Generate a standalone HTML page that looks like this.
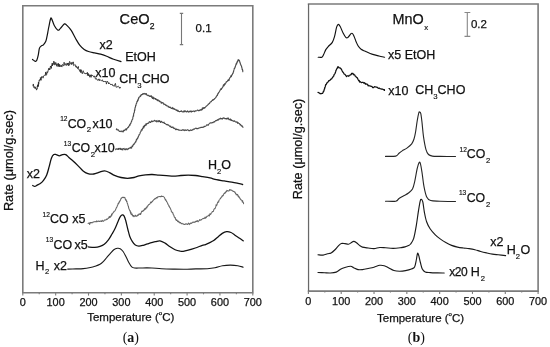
<!DOCTYPE html>
<html><head><meta charset="utf-8"><title>TPD CeO2 MnOx</title>
<style>
html,body{margin:0;padding:0;background:#fff;}
body{width:550px;height:347px;overflow:hidden;}
svg{display:block;filter:blur(0.3px);}
text{font-family:"Liberation Sans",Arial,sans-serif;fill:#111;stroke:#111;stroke-width:0.25px;}
text[font-size="6.6"],text[font-size="7.6"],text[font-size="7.8"]{stroke-width:0.16px;}
</style></head><body>
<svg width="550" height="347" viewBox="0 0 550 347">
<rect width="550" height="347" fill="#fff"/>
<path d="M22.80,5.80 H252.80 V292.80 H22.80 Z" stroke="#7b7b7b" stroke-width="1.6" fill="none"/>
<line x1="22.80" y1="292.80" x2="22.80" y2="295.60" stroke="#7b7b7b" stroke-width="1.1"/>
<line x1="39.23" y1="292.80" x2="39.23" y2="294.30" stroke="#7b7b7b" stroke-width="1.1"/>
<line x1="55.66" y1="292.80" x2="55.66" y2="295.60" stroke="#7b7b7b" stroke-width="1.1"/>
<line x1="72.09" y1="292.80" x2="72.09" y2="294.30" stroke="#7b7b7b" stroke-width="1.1"/>
<line x1="88.51" y1="292.80" x2="88.51" y2="295.60" stroke="#7b7b7b" stroke-width="1.1"/>
<line x1="104.94" y1="292.80" x2="104.94" y2="294.30" stroke="#7b7b7b" stroke-width="1.1"/>
<line x1="121.37" y1="292.80" x2="121.37" y2="295.60" stroke="#7b7b7b" stroke-width="1.1"/>
<line x1="137.80" y1="292.80" x2="137.80" y2="294.30" stroke="#7b7b7b" stroke-width="1.1"/>
<line x1="154.23" y1="292.80" x2="154.23" y2="295.60" stroke="#7b7b7b" stroke-width="1.1"/>
<line x1="170.66" y1="292.80" x2="170.66" y2="294.30" stroke="#7b7b7b" stroke-width="1.1"/>
<line x1="187.09" y1="292.80" x2="187.09" y2="295.60" stroke="#7b7b7b" stroke-width="1.1"/>
<line x1="203.51" y1="292.80" x2="203.51" y2="294.30" stroke="#7b7b7b" stroke-width="1.1"/>
<line x1="219.94" y1="292.80" x2="219.94" y2="295.60" stroke="#7b7b7b" stroke-width="1.1"/>
<line x1="236.37" y1="292.80" x2="236.37" y2="294.30" stroke="#7b7b7b" stroke-width="1.1"/>
<line x1="252.80" y1="292.80" x2="252.80" y2="295.60" stroke="#7b7b7b" stroke-width="1.1"/>
<text x="22.80" y="306.30" text-anchor="middle" font-size="10.9">0</text>
<text x="55.66" y="306.30" text-anchor="middle" font-size="10.9">100</text>
<text x="88.51" y="306.30" text-anchor="middle" font-size="10.9">200</text>
<text x="121.37" y="306.30" text-anchor="middle" font-size="10.9">300</text>
<text x="154.23" y="306.30" text-anchor="middle" font-size="10.9">400</text>
<text x="187.09" y="306.30" text-anchor="middle" font-size="10.9">500</text>
<text x="219.94" y="306.30" text-anchor="middle" font-size="10.9">600</text>
<text x="252.80" y="306.30" text-anchor="middle" font-size="10.9">700</text>
<path d="M307.80,4.00 H538.10 V291.10 H307.80" stroke="#7b7b7b" stroke-width="1.6" fill="none"/>
<line x1="308.55" y1="4.00" x2="308.55" y2="291.10" stroke="#686868" stroke-width="1.25"/>
<line x1="308.40" y1="291.10" x2="308.40" y2="293.90" stroke="#7b7b7b" stroke-width="1.1"/>
<line x1="324.81" y1="291.10" x2="324.81" y2="292.60" stroke="#7b7b7b" stroke-width="1.1"/>
<line x1="341.21" y1="291.10" x2="341.21" y2="293.90" stroke="#7b7b7b" stroke-width="1.1"/>
<line x1="357.62" y1="291.10" x2="357.62" y2="292.60" stroke="#7b7b7b" stroke-width="1.1"/>
<line x1="374.03" y1="291.10" x2="374.03" y2="293.90" stroke="#7b7b7b" stroke-width="1.1"/>
<line x1="390.44" y1="291.10" x2="390.44" y2="292.60" stroke="#7b7b7b" stroke-width="1.1"/>
<line x1="406.84" y1="291.10" x2="406.84" y2="293.90" stroke="#7b7b7b" stroke-width="1.1"/>
<line x1="423.25" y1="291.10" x2="423.25" y2="292.60" stroke="#7b7b7b" stroke-width="1.1"/>
<line x1="439.66" y1="291.10" x2="439.66" y2="293.90" stroke="#7b7b7b" stroke-width="1.1"/>
<line x1="456.06" y1="291.10" x2="456.06" y2="292.60" stroke="#7b7b7b" stroke-width="1.1"/>
<line x1="472.47" y1="291.10" x2="472.47" y2="293.90" stroke="#7b7b7b" stroke-width="1.1"/>
<line x1="488.88" y1="291.10" x2="488.88" y2="292.60" stroke="#7b7b7b" stroke-width="1.1"/>
<line x1="505.29" y1="291.10" x2="505.29" y2="293.90" stroke="#7b7b7b" stroke-width="1.1"/>
<line x1="521.69" y1="291.10" x2="521.69" y2="292.60" stroke="#7b7b7b" stroke-width="1.1"/>
<line x1="538.10" y1="291.10" x2="538.10" y2="293.90" stroke="#7b7b7b" stroke-width="1.1"/>
<text x="308.40" y="305.00" text-anchor="middle" font-size="10.9">0</text>
<text x="341.21" y="305.00" text-anchor="middle" font-size="10.9">100</text>
<text x="374.03" y="305.00" text-anchor="middle" font-size="10.9">200</text>
<text x="406.84" y="305.00" text-anchor="middle" font-size="10.9">300</text>
<text x="439.66" y="305.00" text-anchor="middle" font-size="10.9">400</text>
<text x="472.47" y="305.00" text-anchor="middle" font-size="10.9">500</text>
<text x="505.29" y="305.00" text-anchor="middle" font-size="10.9">600</text>
<text x="538.10" y="305.00" text-anchor="middle" font-size="10.9">700</text>
<g fill="none" stroke-linejoin="round" stroke-linecap="round">
<path d="M32.50,59.40 C32.98,59.73 34.68,61.25 35.40,61.40 C36.12,61.55 36.32,61.40 36.80,60.30 C37.28,59.20 37.87,56.78 38.30,54.80 C38.73,52.82 38.93,49.85 39.40,48.40 C39.87,46.95 40.43,46.70 41.10,46.10 C41.77,45.50 42.63,45.57 43.40,44.80 C44.17,44.03 45.12,42.82 45.70,41.50 C46.28,40.18 46.55,38.43 46.90,36.90 C47.25,35.37 47.48,33.95 47.80,32.30 C48.12,30.65 48.33,29.25 48.80,27.00 C49.27,24.75 50.12,20.15 50.60,18.80 C51.08,17.45 51.07,17.73 51.70,18.90 C52.33,20.07 53.37,23.92 54.40,25.80 C55.43,27.68 56.90,29.77 57.90,30.20 C58.90,30.63 59.32,29.45 60.40,28.40 C61.48,27.35 63.32,24.40 64.40,23.90 C65.48,23.40 65.77,24.32 66.90,25.40 C68.03,26.48 69.75,28.22 71.20,30.40 C72.65,32.58 74.15,36.00 75.60,38.50 C77.05,41.00 78.47,43.58 79.90,45.40 C81.33,47.22 82.77,48.38 84.20,49.40 C85.63,50.42 86.77,50.92 88.50,51.50 C90.23,52.08 92.58,52.47 94.60,52.90 C96.62,53.33 98.58,53.53 100.60,54.10 C102.62,54.67 104.53,55.43 106.70,56.30 C108.87,57.17 111.22,58.42 113.60,59.30 C115.98,60.18 119.77,61.22 121.00,61.60" stroke="#111" stroke-width="1.2"/>
<path d="M33.05,85.96 L33.15,85.98 L33.28,83.96 L33.92,87.27 L34.15,86.64 L34.14,88.01 L34.36,87.79 L35.07,88.10 L35.30,88.68 L35.22,86.83 L35.54,87.63 L36.09,87.80 L36.50,90.12 L36.71,89.51 L36.90,88.92 L36.79,89.17 L37.40,88.71 L37.16,86.70 L37.64,85.50 L37.73,86.05 L37.67,85.46 L37.76,86.86 L37.75,85.22 L37.82,87.02 L37.95,84.37 L38.36,83.85 L38.46,82.08 L38.44,86.07 L38.70,83.20 L38.76,83.56 L38.95,81.74 L39.22,80.43 L39.57,81.09 L39.35,80.60 L39.82,79.50 L39.74,79.21 L39.82,79.06 L40.29,79.09 L40.58,80.20 L40.80,78.00 L40.45,77.56 L41.08,80.29 L41.08,78.88 L41.52,76.93 L41.45,77.51 L41.59,77.86 L41.98,77.50 L42.03,76.26 L42.33,77.09 L42.80,77.56 L43.05,78.15 L43.43,77.32 L43.61,75.92 L43.90,75.56 L44.50,75.43 L44.70,75.29 L44.86,75.33 L45.32,74.59 L45.75,71.96 L45.88,75.56 L46.06,73.51 L46.47,73.55 L46.68,74.46 L47.12,71.60 L47.16,72.38 L47.56,72.75 L47.86,72.04 L48.03,70.94 L48.79,68.30 L48.74,69.44 L49.26,69.28 L49.39,68.47 L49.45,70.00 L49.86,69.41 L50.06,69.41 L50.10,67.84 L50.36,66.74 L50.38,66.08 L50.63,66.76 L50.96,65.99 L51.17,68.59 L51.36,67.14 L51.40,67.64 L51.30,65.92 L51.99,64.87 L51.74,64.43 L52.22,62.99 L52.61,63.47 L52.42,66.01 L52.51,63.67 L53.21,64.70 L53.37,64.38 L53.82,61.15 L53.80,62.36 L54.42,62.14 L54.82,65.13 L54.98,63.49 L55.08,64.00 L55.75,62.40 L56.12,64.66 L56.20,63.72 L56.78,66.25 L56.86,66.18 L57.31,63.93 L58.02,64.37 L58.14,66.79 L58.36,63.25 L58.56,65.97 L58.86,64.36 L59.39,64.46 L59.64,66.88 L59.74,64.58 L60.51,66.14 L60.80,66.63 L60.86,66.03 L61.42,65.28 L61.32,66.46 L61.69,66.65 L62.10,66.92 L62.07,64.77 L62.53,64.47 L63.04,65.12 L63.19,65.96 L63.68,65.54 L63.68,65.40 L64.12,62.24 L64.43,64.26 L64.85,64.27 L64.88,65.39 L65.40,64.18 L65.64,63.74 L65.57,63.75 L66.22,63.41 L66.15,65.29 L66.41,65.19 L66.76,65.39 L67.47,63.08 L67.44,64.77 L67.89,64.60 L68.36,64.28 L68.22,63.22 L68.57,62.97 L68.70,65.94 L69.44,63.90 L69.71,64.42 L69.62,61.38 L70.15,62.33 L70.63,63.62 L70.81,64.06 L71.03,63.54 L71.33,63.63 L71.70,62.41 L71.69,64.67 L72.14,63.46 L72.60,63.74 L72.51,63.30 L72.86,61.97 L73.48,62.05 L73.49,63.05 L73.71,65.65 L74.08,65.40 L74.45,65.03 L74.83,64.49 L75.27,64.78 L75.37,65.80 L75.86,66.14 L76.16,67.25 L76.07,65.80 L76.24,66.70 L77.01,67.74 L77.28,67.50 L77.20,67.22 L77.53,68.62 L78.10,68.23 L78.33,66.43 L78.38,68.33 L78.81,69.54 L78.82,69.91 L79.25,70.03 L79.91,70.25 L79.78,71.37 L80.29,69.49 L80.52,72.50 L80.83,70.25 L81.02,70.49 L81.30,69.78 L81.57,72.44 L81.87,73.11 L81.95,72.75 L82.40,73.69 L82.84,71.43 L83.18,70.71 L83.60,72.44 L84.27,72.95 L84.18,73.59 L84.66,73.13 L85.46,73.77 L85.69,73.04 L86.04,73.73 L86.62,73.43 L87.08,73.62 L87.40,72.30 L87.41,75.53 L87.83,73.16 L87.86,73.22 L88.27,73.44 L88.76,76.00 L88.73,74.31 L89.39,75.14 L89.75,77.21 L89.93,76.53 L90.36,74.82 L91.09,77.36 L91.61,74.72 L92.02,75.78 L92.52,75.18 L93.37,76.39 L93.84,77.17 L94.35,75.86 L94.85,76.97 L95.48,79.08 L96.53,78.55 L97.06,80.05 L97.77,80.11 L98.21,80.43 L98.88,78.87 L99.49,80.66 L99.76,79.57 L100.62,80.22 L101.47,80.66 L102.00,80.55 L102.40,79.78 L103.13,81.75 L103.95,81.29 L104.43,81.88 L105.00,81.02 L105.66,81.61 L105.92,81.19 L106.43,84.10 L107.17,81.25 L108.03,81.83 L108.68,83.94 L108.97,82.93 L109.68,83.22 L110.00,83.91 L111.10,85.01 L111.26,84.51 L112.36,84.34 L112.51,85.55 L113.60,85.63 L114.14,86.42 L114.55,85.14 L115.42,83.37 L116.07,87.24 L116.85,87.00 L117.98,86.64 L118.27,86.02 L119.24,86.97 L119.31,88.10 L120.15,87.46 L120.13,88.16 L120.23,87.50" stroke="#2a2a2a" stroke-width="0.85"/>
<path d="M116.33,129.36 L116.69,128.77 L117.01,129.91 L117.37,130.04 L117.99,129.80 L118.28,129.85 L118.89,130.81 L119.45,131.47 L119.87,131.06 L120.71,131.39 L120.97,131.47 L121.11,131.71 L121.54,131.04 L121.91,131.01 L122.32,131.18 L123.08,132.01 L123.21,131.21 L123.61,130.44 L123.77,131.10 L124.26,130.09 L124.53,130.08 L124.62,130.47 L124.89,130.26 L125.29,129.90 L125.40,129.40 L125.75,129.03 L126.15,128.82 L126.31,129.06 L126.62,129.95 L126.69,129.01 L127.13,128.40 L127.38,128.05 L127.51,127.82 L127.66,127.59 L127.93,127.64 L128.31,126.99 L128.59,127.18 L128.66,126.35 L128.93,126.24 L129.21,125.69 L129.44,125.67 L129.70,125.18 L129.68,124.61 L130.11,125.13 L130.16,124.77 L130.36,123.64 L130.56,123.61 L130.72,123.30 L131.06,122.99 L131.08,122.29 L131.52,121.40 L131.51,121.29 L131.79,121.14 L131.92,119.97 L132.00,120.01 L132.29,119.32 L132.56,119.34 L132.76,118.83 L132.84,117.79 L132.95,116.96 L133.04,116.80 L133.29,115.69 L133.59,116.13 L133.60,113.78 L133.76,114.04 L133.85,112.92 L134.03,113.02 L134.33,112.41 L134.47,111.00 L134.45,110.31 L134.53,109.90 L134.89,110.13 L134.90,108.89 L135.15,107.34 L135.31,107.53 L135.48,106.49 L135.53,105.58 L135.80,105.85 L135.86,105.84 L136.10,104.46 L136.12,103.81 L136.48,103.51 L136.60,103.36 L136.88,101.99 L136.95,101.63 L137.29,101.02 L137.37,101.62 L137.68,99.89 L137.98,100.70 L138.08,99.57 L138.22,99.81 L138.54,97.92 L138.84,98.26 L138.95,97.27 L139.37,97.01 L139.53,96.88 L139.86,96.94 L140.16,95.87 L140.26,96.43 L140.72,96.25 L140.90,95.27 L141.16,94.62 L141.59,94.93 L141.82,94.78 L142.19,94.50 L142.44,94.42 L142.89,93.50 L143.26,94.22 L143.50,93.69 L143.87,93.59 L144.17,93.39 L144.65,93.72 L144.86,94.27 L145.12,93.91 L145.57,93.59 L146.02,94.56 L146.33,93.52 L146.63,94.83 L146.92,95.01 L147.34,95.30 L147.83,95.62 L148.06,95.08 L148.62,95.59 L148.95,95.56 L149.41,96.15 L149.94,96.44 L150.26,95.86 L150.70,96.50 L151.35,95.75 L151.80,97.59 L152.18,96.95 L152.61,98.51 L153.04,96.93 L153.50,98.88 L153.87,97.70 L154.38,98.19 L154.74,98.18 L155.26,99.39 L155.45,98.52 L156.10,99.05 L156.46,99.37 L156.69,99.97 L157.32,99.69 L157.58,100.70 L158.03,99.76 L158.30,100.15 L158.88,100.68 L159.18,101.63 L159.59,100.87 L160.03,101.53 L160.56,101.78 L160.85,102.08 L161.32,103.22 L161.75,102.18 L162.01,102.99 L162.56,102.68 L162.98,103.03 L163.41,103.22 L163.63,103.13 L163.93,104.57 L164.29,104.29 L164.76,104.25 L165.05,104.25 L165.39,104.91 L165.74,105.26 L165.95,105.51 L166.25,105.16 L166.58,105.68 L166.96,105.92 L167.29,105.94 L167.60,105.92 L167.91,106.06 L168.30,107.03 L168.38,106.49 L168.92,106.80 L169.27,107.48 L169.53,107.26 L169.91,107.46 L170.03,106.98 L170.36,107.20 L170.81,107.86 L171.07,107.86 L171.31,108.49 L171.82,108.29 L172.18,108.53 L172.35,108.70 L172.75,107.41 L173.02,108.66 L173.26,108.63 L173.74,108.59 L174.03,109.44 L174.38,108.76 L174.61,108.86 L175.07,109.19 L175.32,109.64 L175.58,109.78 L175.97,109.95 L176.23,110.40 L176.36,109.77 L176.66,109.81 L177.09,110.16 L177.37,111.12 L177.67,110.33 L178.14,110.30 L178.35,111.15 L178.95,111.50 L179.30,111.60 L179.92,111.60 L180.50,111.30 L180.94,111.49 L181.49,110.79 L182.12,111.74 L182.74,111.85 L183.43,112.02 L184.09,110.65 L184.62,111.87 L185.24,110.90 L185.77,111.27 L186.26,111.92 L186.82,111.70 L187.62,110.88 L187.95,111.72 L188.65,112.10 L189.21,111.19 L189.79,111.77 L190.28,111.68 L190.91,110.78 L191.43,112.03 L192.04,111.32 L192.64,111.56 L193.23,111.12 L194.03,111.17 L194.51,111.72 L195.23,110.75 L195.81,111.13 L196.50,110.75 L197.03,110.39 L197.62,109.96 L198.23,110.80 L198.79,110.38 L199.44,110.60 L199.95,109.93 L200.50,109.66 L201.05,110.32 L201.36,109.42 L202.01,109.82 L202.35,107.79 L202.60,109.15 L203.02,108.45 L203.42,107.63 L203.96,108.34 L204.32,107.47 L204.66,108.07 L205.20,107.32 L205.75,106.90 L205.95,106.37 L206.47,106.25 L206.91,105.72 L207.31,105.36 L207.93,104.92 L208.15,104.06 L208.68,104.12 L208.99,103.68 L209.54,103.58 L210.08,102.27 L210.32,102.09 L210.71,101.69 L211.31,101.66 L211.71,100.85 L212.31,100.42 L212.61,99.70 L213.04,100.32 L213.46,99.54 L214.07,99.35 L214.51,98.63 L214.72,98.50 L215.16,98.25 L215.62,97.64 L215.88,97.61 L216.15,96.80 L216.49,96.00 L216.75,96.09 L217.12,94.94 L217.42,95.49 L217.77,93.94 L217.95,93.31 L218.17,93.77 L218.57,92.47 L218.78,92.53 L219.08,91.86 L219.26,91.88 L219.49,91.44 L219.80,90.71 L220.04,90.10 L220.52,89.89 L220.62,89.51 L220.94,88.55 L221.45,89.36 L221.65,88.29 L221.88,88.29 L222.16,88.00 L222.59,87.05 L222.85,87.07 L222.99,86.55 L223.41,84.88 L223.72,85.89 L223.81,84.78 L224.19,85.76 L224.47,83.79 L224.89,84.44 L225.08,84.41 L225.26,83.34 L225.77,82.96 L226.13,82.77 L226.21,81.84 L226.79,81.63 L227.03,81.52 L227.36,81.35 L227.84,80.08 L228.14,80.69 L228.55,79.66 L229.05,80.48 L229.42,78.42 L229.58,78.02 L230.09,77.78 L230.21,77.51 L230.47,76.93 L230.75,75.83 L231.15,76.14 L231.39,76.74 L231.54,75.96 L231.57,75.10 L231.91,74.95 L232.07,74.71 L232.24,74.88 L232.45,74.17 L232.68,73.55 L233.03,72.77 L233.20,73.27 L233.39,71.74 L233.57,71.54 L233.81,70.31 L234.06,69.65 L234.12,69.24 L234.35,68.20 L234.75,68.32 L234.95,66.81 L235.04,67.50 L235.36,66.61 L235.55,65.73 L235.81,65.47 L235.97,64.06 L236.13,63.81 L236.25,63.46 L236.53,63.37 L236.61,64.16 L236.73,63.07 L236.84,62.33 L237.12,62.84 L237.26,61.20 L237.47,61.83 L237.74,61.30 L237.97,59.83 L237.99,60.85 L238.25,59.86 L238.71,60.62 L238.75,59.73 L239.01,60.05 L239.24,60.34 L239.60,61.08 L239.71,61.34 L239.81,62.35 L240.07,62.39 L240.15,63.29 L240.43,63.44 L240.39,64.03 L240.73,64.33 L240.86,65.09 L241.22,65.60 L241.51,66.26 L241.59,66.76 L242.08,68.48 L242.14,69.54 L242.53,69.33 L242.53,70.19 L242.77,70.18 L242.79,71.49 L242.79,71.65" stroke="#4a4a4a" stroke-width="1.1"/>
<path d="M115.68,149.63 L115.90,148.88 L116.25,149.05 L116.93,148.85 L117.12,149.32 L117.58,148.90 L117.93,148.76 L118.31,149.51 L118.59,148.43 L119.04,148.91 L119.62,148.82 L119.92,148.35 L120.28,149.38 L120.79,148.34 L121.09,149.31 L121.53,149.69 L122.10,148.83 L122.42,148.92 L122.74,149.98 L123.18,148.67 L123.61,148.81 L124.09,148.30 L124.22,148.67 L124.67,149.52 L125.12,149.83 L125.46,149.52 L125.70,148.80 L126.05,148.64 L126.45,149.15 L126.87,149.16 L127.12,149.67 L127.53,148.89 L128.17,149.25 L128.71,148.24 L129.27,148.22 L129.95,148.31 L130.19,147.21 L130.77,147.89 L131.39,147.21 L131.60,148.22 L131.78,147.14 L132.05,146.22 L132.28,145.80 L132.49,146.00 L132.65,146.43 L132.84,145.90 L133.13,145.30 L133.24,144.67 L133.50,144.28 L133.77,144.10 L134.05,144.31 L134.27,143.51 L134.63,143.05 L134.76,142.73 L134.99,142.87 L135.19,142.57 L135.56,141.55 L135.85,142.03 L136.07,140.59 L136.15,141.04 L136.42,139.38 L136.80,139.81 L136.87,139.79 L137.05,138.88 L137.29,138.44 L137.72,137.74 L137.86,138.32 L138.02,136.70 L138.30,137.15 L138.60,135.87 L138.94,135.78 L139.10,134.59 L139.24,134.41 L139.63,134.26 L139.86,133.96 L139.97,133.58 L140.21,132.30 L140.67,131.75 L140.83,131.63 L141.13,131.05 L141.17,130.11 L141.64,129.76 L141.87,129.35 L142.09,129.82 L142.15,130.14 L142.48,128.49 L142.81,128.12 L143.03,128.22 L143.10,128.14 L143.40,126.24 L143.82,127.87 L143.88,127.24 L144.30,125.59 L144.29,126.67 L144.54,126.24 L144.89,125.14 L144.99,125.69 L145.24,125.65 L145.73,125.15 L145.89,123.73 L146.05,125.26 L146.24,124.75 L146.61,123.69 L146.75,124.11 L147.01,123.68 L147.39,123.58 L147.56,123.35 L147.94,123.47 L148.16,123.09 L148.49,123.18 L148.87,122.46 L149.00,122.67 L149.29,121.67 L149.69,121.89 L149.92,121.90 L150.33,122.36 L150.67,122.41 L151.11,121.71 L151.50,121.11 L151.80,120.86 L152.27,121.67 L152.66,121.26 L152.99,121.34 L153.49,121.20 L153.72,121.04 L154.18,120.84 L154.47,120.24 L154.91,120.76 L155.37,121.28 L155.71,120.76 L156.15,121.11 L156.50,120.73 L156.72,121.93 L157.08,121.81 L157.69,121.02 L158.03,120.39 L158.40,121.02 L158.69,121.68 L159.30,121.44 L159.56,120.63 L160.11,121.50 L160.61,122.45 L161.14,121.62 L161.55,121.29 L161.85,122.02 L162.41,122.23 L162.84,122.59 L163.56,122.67 L164.08,122.14 L164.35,123.49 L164.90,123.57 L165.40,123.68 L166.17,124.49 L166.59,124.62 L167.12,124.41 L167.93,125.16 L168.35,124.91 L169.00,125.44 L169.55,126.09 L170.25,126.72 L170.65,126.03 L171.34,127.38 L172.02,127.60 L172.37,127.15 L173.05,127.02 L173.59,128.28 L174.19,128.55 L174.78,128.10 L175.35,129.33 L175.90,129.78 L176.46,128.94 L176.85,129.58 L177.51,129.70 L178.03,129.24 L178.75,130.25 L179.54,130.13 L180.28,130.29 L180.79,130.25 L181.74,130.38 L182.51,129.70 L183.16,130.30 L183.87,129.75 L184.80,130.62 L185.51,129.81 L186.17,130.37 L186.73,130.16 L187.39,129.73 L188.04,129.83 L188.76,130.73 L189.43,130.59 L189.82,130.71 L190.40,129.87 L191.02,130.24 L191.73,130.34 L192.08,129.86 L192.81,130.06 L193.34,129.14 L193.86,129.28 L194.39,129.29 L195.04,128.43 L195.68,128.16 L196.06,128.03 L196.56,128.70 L197.40,128.41 L197.83,128.69 L198.48,128.35 L198.96,127.93 L199.66,127.77 L200.11,127.88 L200.77,127.36 L201.29,127.33 L201.89,127.25 L202.55,127.38 L202.91,127.07 L203.76,127.21 L204.21,126.18 L204.68,126.57 L205.46,126.30 L206.10,125.87 L206.49,124.93 L207.15,124.71 L207.82,125.23 L208.29,125.21 L208.76,124.14 L209.52,123.61 L209.90,123.11 L210.71,122.78 L211.09,123.04 L211.63,123.02 L212.28,122.43 L212.81,122.78 L213.53,122.06 L214.15,121.67 L214.65,121.96 L215.09,121.30 L215.70,120.46 L216.28,120.80 L216.93,120.14 L217.58,119.64 L218.05,120.35 L218.74,119.09 L219.37,119.12 L219.86,118.47 L220.49,118.17 L221.09,119.11 L221.52,118.51 L222.23,118.55 L222.56,119.06 L223.20,117.63 L223.43,118.23 L223.90,118.23 L224.43,118.13 L224.81,118.64 L225.20,118.56 L225.64,118.64 L225.91,118.83 L226.39,118.41 L226.90,119.05 L227.40,118.55 L227.67,118.06 L228.17,118.75 L228.53,118.07 L228.90,119.67 L229.57,119.47 L229.81,119.60 L230.43,119.00 L230.87,120.43 L231.10,120.48 L231.53,119.74 L231.95,120.64 L232.44,120.61 L232.83,120.88 L233.24,120.90 L233.78,121.37 L234.29,120.73 L234.62,120.95 L235.13,121.55 L235.43,121.88 L236.01,122.01 L236.36,122.25 L236.85,121.85 L237.29,121.96 L237.62,123.33 L238.12,122.61 L238.60,123.13 L239.16,123.60 L239.73,123.76 L240.06,124.92 L240.74,124.63 L241.16,125.64 L241.52,126.12 L241.99,125.84 L242.28,125.99 L242.54,126.42 L243.01,127.21 L242.95,127.40" stroke="#4a4a4a" stroke-width="1.1"/>
<path d="M32.70,185.50 C33.05,185.65 34.05,186.47 34.80,186.40 C35.55,186.33 36.28,185.57 37.20,185.10 C38.12,184.63 39.25,184.38 40.30,183.60 C41.35,182.82 42.43,181.85 43.50,180.40 C44.57,178.95 45.77,177.15 46.70,174.90 C47.63,172.65 48.32,169.68 49.10,166.90 C49.88,164.12 50.62,160.25 51.40,158.20 C52.18,156.15 53.00,155.20 53.80,154.60 C54.60,154.00 55.27,154.40 56.20,154.60 C57.13,154.80 58.35,155.80 59.40,155.80 C60.45,155.80 61.45,154.80 62.50,154.60 C63.55,154.40 64.63,154.13 65.70,154.60 C66.77,155.07 67.58,156.27 68.90,157.40 C70.22,158.53 72.02,159.95 73.60,161.40 C75.18,162.85 76.82,164.52 78.40,166.10 C79.98,167.68 81.52,169.65 83.10,170.90 C84.68,172.15 86.32,173.05 87.90,173.60 C89.48,174.15 91.25,174.23 92.60,174.20 C93.95,174.17 94.82,173.75 96.00,173.40 C97.18,173.05 98.27,172.52 99.70,172.10 C101.13,171.68 102.97,170.82 104.60,170.90 C106.23,170.98 107.85,171.85 109.50,172.60 C111.15,173.35 112.58,174.58 114.50,175.40 C116.42,176.22 118.83,177.02 121.00,177.50 C123.17,177.98 125.32,178.30 127.50,178.30 C129.68,178.30 132.18,177.90 134.10,177.50 C136.02,177.10 137.10,176.33 139.00,175.90 C140.90,175.47 143.32,175.13 145.50,174.90 C147.68,174.67 149.83,174.45 152.10,174.50 C154.37,174.55 156.72,175.02 159.10,175.20 C161.48,175.38 163.98,175.43 166.40,175.60 C168.82,175.77 171.18,176.22 173.60,176.20 C176.02,176.18 178.47,175.67 180.90,175.50 C183.33,175.33 185.77,175.20 188.20,175.20 C190.63,175.20 193.08,175.27 195.50,175.50 C197.92,175.73 200.28,176.20 202.70,176.60 C205.12,177.00 207.72,177.38 210.00,177.90 C212.28,178.42 214.05,179.20 216.40,179.70 C218.75,180.20 221.53,180.50 224.10,180.90 C226.67,181.30 229.48,181.68 231.80,182.10 C234.12,182.52 236.20,183.00 238.00,183.40 C239.80,183.80 241.83,184.32 242.60,184.50" stroke="#111" stroke-width="1.3"/>
<path d="M88.13,223.40 L88.64,223.08 L89.03,223.05 L89.69,224.40 L90.14,222.41 L90.46,222.88 L90.75,222.78 L91.12,222.48 L91.43,222.52 L92.00,222.91 L92.22,222.67 L92.73,222.57 L92.88,222.02 L93.40,221.96 L93.71,221.99 L94.17,221.65 L94.63,221.82 L94.82,221.84 L95.43,221.62 L95.82,221.84 L96.13,221.65 L96.45,220.88 L96.86,221.80 L97.35,221.46 L97.59,221.34 L98.20,220.95 L98.58,221.23 L98.82,221.46 L99.31,221.27 L99.79,221.38 L100.09,221.27 L100.41,221.04 L100.72,221.08 L101.18,221.46 L101.52,221.56 L102.14,220.28 L102.84,221.17 L103.60,221.22 L104.02,220.57 L104.58,219.98 L105.37,219.94 L105.88,220.01 L106.42,219.14 L107.04,219.42 L107.66,218.78 L108.11,218.59 L108.41,217.83 L108.86,217.92 L109.07,217.44 L109.25,216.41 L109.52,217.49 L109.94,217.28 L110.26,216.08 L110.36,217.25 L110.84,216.32 L110.93,216.60 L111.44,215.56 L111.63,213.93 L111.82,215.22 L112.09,214.35 L112.50,213.60 L112.69,213.67 L112.97,212.88 L113.27,212.63 L113.64,212.32 L113.94,211.35 L114.21,211.34 L114.46,211.28 L114.81,211.09 L115.16,210.50 L115.43,209.98 L115.67,209.13 L115.89,209.17 L116.28,207.78 L116.63,207.40 L116.89,206.96 L117.23,206.03 L117.49,205.40 L117.85,204.79 L118.15,203.32 L118.23,203.54 L118.67,203.65 L118.77,203.43 L119.03,201.99 L119.28,202.55 L119.41,201.31 L119.74,201.28 L119.96,201.18 L120.11,200.39 L120.42,200.26 L120.82,199.08 L121.15,198.14 L121.54,198.29 L121.80,198.01 L122.17,197.20 L122.46,197.59 L122.75,197.54 L123.18,197.18 L123.62,197.69 L124.01,197.37 L124.47,197.52 L124.82,198.09 L125.02,197.75 L125.42,199.60 L125.71,199.27 L125.95,200.53 L126.29,199.93 L126.55,201.56 L126.59,201.00 L126.88,201.17 L127.00,202.15 L127.07,202.26 L127.23,203.26 L127.41,203.53 L127.56,203.89 L127.63,204.10 L127.83,204.43 L127.77,204.80 L128.13,205.92 L128.14,205.55 L128.39,206.70 L128.48,206.29 L128.56,207.19 L128.70,208.07 L128.89,208.60 L128.99,208.94 L129.09,208.91 L129.30,209.71 L129.53,209.94 L129.56,210.26 L129.68,210.47 L129.80,210.65 L130.08,211.14 L130.25,210.81 L130.36,212.38 L130.57,211.80 L130.77,213.85 L131.05,212.37 L131.05,213.05 L131.26,213.93 L131.60,214.66 L131.76,214.49 L132.16,213.93 L132.54,215.68 L132.97,216.11 L133.32,215.56 L133.52,215.52 L134.01,216.79 L134.47,216.10 L134.80,215.89 L135.37,215.21 L135.71,216.21 L136.23,216.03 L136.59,216.21 L137.12,215.99 L137.47,214.94 L138.08,215.48 L138.50,214.98 L138.65,214.51 L138.90,213.93 L139.33,214.46 L139.60,214.12 L139.78,214.18 L140.19,213.44 L140.55,214.48 L140.84,213.83 L141.45,211.85 L141.84,211.14 L142.43,211.45 L142.69,210.93 L143.18,210.60 L143.47,210.88 L143.83,209.95 L143.91,210.49 L144.19,209.63 L144.50,208.76 L144.70,209.34 L145.06,209.39 L145.38,208.55 L145.72,208.98 L146.02,208.09 L146.20,207.26 L146.65,207.26 L146.89,207.87 L147.27,206.14 L147.56,206.32 L147.98,205.86 L148.36,205.07 L148.72,204.61 L149.13,204.60 L149.57,204.17 L149.99,203.81 L150.22,203.34 L150.65,202.07 L151.14,202.28 L151.43,202.73 L151.80,202.14 L152.22,201.28 L152.64,201.40 L153.14,200.29 L153.50,199.98 L153.96,199.62 L154.25,199.57 L154.78,198.67 L154.95,198.87 L155.46,198.38 L155.83,198.77 L156.32,197.85 L156.66,197.48 L156.83,197.59 L157.31,197.88 L157.57,196.98 L157.96,196.85 L158.32,196.65 L158.86,196.85 L159.57,196.60 L160.25,196.56 L160.87,196.87 L161.37,195.94 L162.00,196.48 L162.53,196.49 L163.09,196.37 L163.77,196.85 L164.27,197.11 L164.45,197.99 L164.72,198.03 L164.81,198.43 L165.23,199.45 L165.41,200.10 L165.70,199.37 L165.84,199.87 L165.97,200.30 L166.34,200.82 L166.44,201.25 L166.67,201.72 L166.91,201.70 L167.26,202.38 L167.45,203.00 L167.82,203.76 L167.97,204.27 L168.27,204.87 L168.49,204.80 L168.58,204.88 L168.96,206.47 L169.15,206.05 L169.41,206.63 L169.73,207.64 L169.94,207.81 L170.23,207.97 L170.34,208.52 L170.60,208.82 L170.76,209.53 L171.21,210.20 L171.26,211.27 L171.61,211.58 L171.79,211.90 L172.01,211.99 L172.30,212.72 L172.61,212.45 L172.89,212.91 L173.02,213.51 L173.36,214.81 L173.52,214.87 L173.76,215.14 L174.00,215.80 L174.23,216.88 L174.55,217.19 L174.82,217.68 L174.96,217.63 L175.26,217.46 L175.45,219.18 L175.64,218.80 L175.79,219.65 L176.38,220.40 L176.68,219.68 L177.21,220.62 L177.65,221.60 L178.05,221.13 L178.36,221.06 L178.57,222.11 L179.00,221.79 L179.30,221.90 L179.65,222.77 L180.03,222.95 L180.49,222.48 L180.88,223.00 L181.36,223.81 L181.60,223.69 L182.10,223.30 L182.49,223.67 L182.87,223.91 L183.22,224.26 L183.69,224.00 L184.17,224.14 L184.38,224.56 L184.86,224.59 L185.32,224.09 L185.81,223.78 L186.18,224.07 L186.55,223.85 L187.01,224.35 L187.55,224.49 L188.13,223.57 L188.56,223.12 L189.31,224.61 L189.88,223.63 L190.31,223.61 L190.95,222.83 L191.61,223.42 L192.06,222.79 L192.83,221.99 L193.26,222.03 L194.00,222.42 L194.45,222.29 L195.18,221.57 L195.61,221.97 L196.14,221.04 L196.79,221.43 L197.47,220.63 L198.10,221.85 L198.60,220.99 L199.20,220.64 L199.79,219.52 L200.46,220.12 L200.97,220.11 L201.53,219.44 L202.10,219.14 L202.56,218.69 L203.33,218.62 L203.95,218.28 L204.44,218.38 L205.11,217.06 L205.62,218.17 L206.33,217.43 L206.90,216.23 L207.39,216.20 L207.87,215.93 L208.38,215.68 L208.81,215.01 L209.47,215.86 L209.91,213.73 L210.17,213.98 L210.71,214.35 L211.22,213.15 L211.54,212.83 L211.86,212.51 L212.39,211.44 L212.78,211.42 L213.05,211.56 L213.52,211.15 L213.78,209.72 L214.35,208.72 L214.58,208.58 L215.09,208.63 L215.39,207.64 L215.89,206.53 L216.08,204.67 L216.58,205.50 L216.96,204.88 L217.28,203.41 L217.71,202.14 L218.06,202.30 L218.25,201.71 L218.64,202.12 L218.97,200.19 L219.56,199.85 L219.92,199.15 L220.17,198.59 L220.60,198.42 L220.90,197.77 L221.12,197.27 L221.69,197.27 L221.88,196.10 L222.23,196.36 L222.65,195.35 L223.10,195.70 L223.41,194.95 L223.82,193.85 L224.03,193.50 L224.59,193.59 L224.86,192.55 L225.33,193.02 L225.65,192.45 L226.00,191.38 L226.28,191.39 L226.54,191.63 L226.89,190.38 L227.18,190.98 L227.83,190.65 L228.34,190.93 L229.06,190.91 L229.57,189.61 L230.12,190.22 L230.72,189.69 L231.27,190.29 L231.96,190.32 L232.56,191.08 L233.10,191.13 L233.36,191.41 L233.88,191.55 L234.16,191.64 L234.57,192.22 L234.75,191.91 L235.25,192.55 L235.47,193.54 L236.01,193.88 L236.24,194.86 L236.71,194.23 L237.15,194.70 L237.39,195.07 L237.65,194.52 L238.08,196.46 L238.47,195.98 L238.72,197.20 L239.19,196.84 L239.40,197.65 L239.63,197.55 L240.03,198.81 L240.34,198.68 L240.74,199.71 L240.91,199.75 L241.30,199.67 L241.50,200.02 L241.79,200.49 L241.82,200.20 L242.06,200.54 L242.33,202.09 L242.61,200.70 L242.92,202.26 L243.40,202.84 L243.41,202.53 L243.59,203.78" stroke="#666" stroke-width="1.05"/>
<path d="M88.20,246.90 C89.28,246.97 92.73,247.40 94.70,247.30 C96.67,247.20 98.40,246.82 100.00,246.30 C101.60,245.78 102.87,245.32 104.30,244.20 C105.73,243.08 107.32,241.30 108.60,239.60 C109.88,237.90 110.97,235.77 112.00,234.00 C113.03,232.23 113.85,230.95 114.80,229.00 C115.75,227.05 116.83,224.28 117.70,222.30 C118.57,220.32 119.23,218.33 120.00,217.10 C120.77,215.87 121.63,215.10 122.30,214.90 C122.97,214.70 123.43,214.97 124.00,215.90 C124.57,216.83 125.03,218.15 125.70,220.50 C126.37,222.85 127.32,227.33 128.00,230.00 C128.68,232.67 129.07,234.55 129.80,236.50 C130.53,238.45 131.48,240.27 132.40,241.70 C133.32,243.13 134.22,244.37 135.30,245.10 C136.38,245.83 137.58,246.07 138.90,246.10 C140.22,246.13 141.75,245.67 143.20,245.30 C144.65,244.93 145.57,244.50 147.60,243.90 C149.63,243.30 153.33,242.20 155.40,241.70 C157.47,241.20 158.40,240.67 160.00,240.90 C161.60,241.13 163.32,242.13 165.00,243.10 C166.68,244.07 168.42,245.60 170.10,246.70 C171.78,247.80 173.42,248.95 175.10,249.70 C176.78,250.45 178.85,250.92 180.20,251.20 C181.55,251.48 181.87,251.57 183.20,251.40 C184.53,251.23 186.18,250.77 188.20,250.20 C190.22,249.63 192.95,248.80 195.30,248.00 C197.65,247.20 200.60,245.97 202.30,245.40 C204.00,244.83 204.33,245.02 205.50,244.60 C206.67,244.18 207.93,243.57 209.30,242.90 C210.67,242.23 212.25,241.60 213.70,240.60 C215.15,239.60 216.57,238.10 218.00,236.90 C219.43,235.70 220.87,234.27 222.30,233.40 C223.73,232.53 225.15,231.85 226.60,231.70 C228.05,231.55 229.55,231.88 231.00,232.50 C232.45,233.12 233.87,234.45 235.30,235.40 C236.73,236.35 238.27,237.30 239.60,238.20 C240.93,239.10 242.68,240.37 243.30,240.80" stroke="#111" stroke-width="1.25"/>
<path d="M67.70,269.10 C69.08,269.07 73.42,268.98 76.00,268.90 C78.58,268.82 80.80,268.83 83.20,268.60 C85.60,268.37 88.43,267.88 90.40,267.50 C92.37,267.12 93.40,266.83 95.00,266.30 C96.60,265.77 98.58,265.13 100.00,264.30 C101.42,263.47 102.35,262.47 103.50,261.30 C104.65,260.13 105.75,258.63 106.90,257.30 C108.05,255.97 109.25,254.55 110.40,253.30 C111.55,252.05 112.65,250.63 113.80,249.80 C114.95,248.97 116.23,248.48 117.30,248.30 C118.37,248.12 119.23,248.17 120.20,248.70 C121.17,249.23 122.13,250.17 123.10,251.50 C124.07,252.83 125.05,254.87 126.00,256.70 C126.95,258.53 127.85,260.82 128.80,262.50 C129.75,264.18 130.73,265.88 131.70,266.80 C132.67,267.72 133.15,267.80 134.60,268.00 C136.05,268.20 138.47,268.02 140.40,268.00 C142.33,267.98 144.28,267.90 146.20,267.90 C148.12,267.90 149.35,267.87 151.90,268.00 C154.45,268.13 158.00,268.52 161.50,268.70 C165.00,268.88 169.08,269.00 172.90,269.10 C176.72,269.20 180.58,269.33 184.40,269.30 C188.22,269.27 191.98,269.00 195.80,268.90 C199.62,268.80 204.12,268.88 207.30,268.70 C210.48,268.52 212.37,268.28 214.90,267.80 C217.43,267.32 219.95,266.25 222.50,265.80 C225.05,265.35 227.65,265.12 230.20,265.10 C232.75,265.08 235.63,265.35 237.80,265.70 C239.97,266.05 242.30,266.95 243.20,267.20" stroke="#1a1a1a" stroke-width="1.1"/>
<path d="M318.20,57.20 C318.82,57.20 321.00,57.63 321.90,57.20 C322.80,56.77 322.95,55.87 323.60,54.60 C324.25,53.33 324.95,51.03 325.80,49.60 C326.65,48.17 327.62,47.20 328.70,46.00 C329.78,44.80 331.33,43.97 332.30,42.40 C333.27,40.83 333.78,39.13 334.50,36.60 C335.22,34.07 335.97,29.23 336.60,27.20 C337.23,25.17 337.70,24.52 338.30,24.40 C338.90,24.28 339.40,25.07 340.20,26.50 C341.00,27.93 342.13,31.15 343.10,33.00 C344.07,34.85 345.17,36.88 346.00,37.60 C346.83,38.32 347.27,37.95 348.10,37.30 C348.93,36.65 350.32,34.35 351.00,33.70 C351.68,33.05 351.72,33.03 352.20,33.40 C352.68,33.77 353.25,34.52 353.90,35.90 C354.55,37.28 355.38,40.02 356.10,41.70 C356.82,43.38 357.37,44.73 358.20,46.00 C359.03,47.27 359.92,48.42 361.10,49.30 C362.28,50.18 363.37,50.45 365.30,51.30 C367.23,52.15 370.42,53.62 372.70,54.40 C374.98,55.18 377.02,55.53 379.00,56.00 C380.98,56.47 383.67,57.00 384.60,57.20" stroke="#111" stroke-width="1.15"/>
<path d="M317.99,92.42 L318.65,92.56 L319.30,93.10 L320.21,93.78 L320.92,93.44 L321.56,93.59 L321.96,93.50 L322.53,93.47 L322.71,93.02 L323.16,92.30 L323.39,91.24 L323.63,91.46 L323.98,90.64 L324.30,89.08 L324.65,88.91 L324.69,88.12 L324.79,87.41 L324.95,87.46 L325.23,86.65 L325.42,85.97 L325.51,84.97 L325.70,85.14 L326.07,84.69 L326.61,83.63 L327.04,82.86 L327.36,82.31 L327.90,82.10 L328.29,81.59 L328.83,80.61 L329.41,80.73 L329.90,80.46 L330.59,79.48 L331.12,78.99 L331.79,78.87 L332.17,77.85 L332.80,77.25 L333.15,76.46 L333.75,76.00 L334.08,74.60 L334.55,74.06 L334.99,73.58 L335.46,72.24 L335.64,71.76 L335.96,70.47 L336.39,69.88 L336.60,69.15 L337.01,68.52 L337.26,68.30 L337.66,66.98 L338.44,66.82 L338.86,67.85 L339.50,67.79 L340.12,67.97 L340.48,68.28 L340.90,68.71 L341.42,69.24 L341.83,70.24 L342.27,71.07 L342.59,71.98 L343.15,72.18 L343.64,73.06 L344.08,73.94 L344.74,74.29 L345.37,74.85 L345.87,75.65 L346.56,76.48 L347.01,75.84 L347.60,75.93 L348.27,75.89 L348.76,76.26 L349.18,75.44 L349.54,75.27 L350.08,75.11 L350.54,74.82 L351.05,74.70 L351.52,73.41 L351.88,73.90 L352.42,73.27 L353.00,73.37 L353.53,74.74 L353.97,74.31 L354.31,74.68 L354.75,75.01 L355.13,75.88 L355.58,76.21 L356.01,76.73 L356.55,77.33 L357.10,77.56 L357.62,78.62 L357.95,79.29 L358.35,80.01 L358.75,80.79 L359.17,80.44 L359.62,82.03 L360.26,81.64 L360.88,82.23 L361.48,82.62 L362.27,82.29 L362.88,82.27 L363.78,83.13 L364.45,82.73 L365.43,84.01 L365.74,83.50 L366.23,84.18 L366.75,84.08 L367.19,84.01 L367.68,84.72 L368.08,85.75 L368.58,85.32 L368.97,85.95 L369.90,85.81 L370.77,86.27 L371.85,86.40 L372.72,87.59 L373.60,87.51 L374.50,86.66 L375.38,86.99 L376.43,87.11 L377.43,87.43 L378.26,88.31 L379.21,88.02 L380.07,88.73 L380.96,88.83 L381.65,89.18 L382.57,89.13 L383.26,89.49 L383.89,89.89 L384.36,89.63 L384.46,90.46" stroke="#111" stroke-width="1.25"/>
<path d="M385.50,156.40 C387.22,156.35 393.55,156.62 395.80,156.10 C398.05,155.58 397.93,154.17 399.00,153.30 C400.07,152.43 400.88,151.77 402.20,150.90 C403.52,150.03 405.32,149.28 406.90,148.10 C408.48,146.92 410.52,145.32 411.70,143.80 C412.88,142.28 413.35,140.98 414.00,139.00 C414.65,137.02 415.07,134.93 415.60,131.90 C416.13,128.87 416.67,123.97 417.20,120.80 C417.73,117.63 418.40,114.35 418.80,112.90 C419.20,111.45 419.27,111.97 419.60,112.10 C419.93,112.23 420.40,111.98 420.80,113.70 C421.20,115.42 421.55,118.57 422.00,122.40 C422.45,126.23 422.85,132.22 423.50,136.70 C424.15,141.18 425.07,146.33 425.90,149.30 C426.73,152.27 427.43,153.37 428.50,154.50 C429.57,155.63 430.38,155.78 432.30,156.10 C434.22,156.42 436.13,156.33 440.00,156.40 C443.87,156.47 452.92,156.48 455.50,156.50" stroke="#262626" stroke-width="1.1"/>
<path d="M385.50,201.20 C387.22,201.20 393.55,201.65 395.80,201.20 C398.05,200.75 397.68,199.40 399.00,198.50 C400.32,197.60 402.12,196.72 403.70,195.80 C405.28,194.88 407.03,194.13 408.50,193.00 C409.97,191.87 411.45,190.98 412.50,189.00 C413.55,187.02 414.02,184.52 414.80,181.10 C415.58,177.68 416.48,171.58 417.20,168.50 C417.92,165.42 418.57,163.40 419.10,162.60 C419.63,161.80 419.92,162.07 420.40,163.70 C420.88,165.33 421.40,168.57 422.00,172.40 C422.60,176.23 423.22,182.60 424.00,186.70 C424.78,190.80 425.58,194.68 426.70,197.00 C427.82,199.32 428.48,199.90 430.70,200.60 C432.92,201.30 435.87,201.05 440.00,201.20 C444.13,201.35 452.92,201.45 455.50,201.50" stroke="#262626" stroke-width="1.1"/>
<path d="M318.00,254.80 C318.85,254.85 321.52,255.27 323.10,255.10 C324.68,254.93 326.17,254.17 327.50,253.80 C328.83,253.43 329.90,253.53 331.10,252.90 C332.30,252.27 333.48,251.18 334.70,250.00 C335.92,248.82 337.30,246.88 338.40,245.80 C339.50,244.72 340.22,243.87 341.30,243.50 C342.38,243.13 343.70,243.48 344.90,243.60 C346.10,243.72 347.40,244.38 348.50,244.20 C349.60,244.02 350.65,242.97 351.50,242.50 C352.35,242.03 352.77,241.37 353.60,241.40 C354.43,241.43 355.52,242.03 356.50,242.70 C357.48,243.37 358.52,244.67 359.50,245.40 C360.48,246.13 360.95,246.67 362.40,247.10 C363.85,247.53 366.27,247.75 368.20,248.00 C370.13,248.25 372.07,248.68 374.00,248.60 C375.93,248.52 377.87,247.63 379.80,247.50 C381.73,247.37 383.38,247.65 385.60,247.80 C387.82,247.95 390.50,248.43 393.10,248.40 C395.70,248.37 399.22,247.85 401.20,247.60 C403.18,247.35 403.78,247.25 405.00,246.90 C406.22,246.55 407.57,245.98 408.50,245.50 C409.43,245.02 409.73,245.20 410.60,244.00 C411.47,242.80 412.77,241.28 413.70,238.30 C414.63,235.32 415.40,230.72 416.20,226.10 C417.00,221.48 417.83,214.77 418.50,210.60 C419.17,206.43 419.73,202.98 420.20,201.10 C420.67,199.22 420.87,199.17 421.30,199.30 C421.73,199.43 422.28,199.73 422.80,201.90 C423.32,204.07 423.77,208.98 424.40,212.30 C425.03,215.62 425.65,219.07 426.60,221.80 C427.55,224.53 428.65,226.53 430.10,228.70 C431.55,230.87 433.57,233.07 435.30,234.80 C437.03,236.53 438.75,237.82 440.50,239.10 C442.25,240.38 443.95,241.45 445.80,242.50 C447.65,243.55 449.65,244.63 451.60,245.40 C453.55,246.17 455.55,246.67 457.50,247.10 C459.45,247.53 461.37,247.75 463.30,248.00 C465.23,248.25 467.17,248.32 469.10,248.60 C471.03,248.88 472.97,249.22 474.90,249.70 C476.83,250.18 478.77,250.97 480.70,251.50 C482.63,252.03 484.55,252.47 486.50,252.90 C488.45,253.33 490.45,253.78 492.40,254.10 C494.35,254.42 496.00,254.55 498.20,254.80 C500.40,255.05 504.37,255.47 505.60,255.60" stroke="#1a1a1a" stroke-width="1.15"/>
<path d="M318.00,272.50 C319.08,272.55 322.43,272.72 324.50,272.80 C326.57,272.88 328.45,273.12 330.40,273.00 C332.35,272.88 334.52,272.72 336.20,272.10 C337.88,271.48 339.05,270.07 340.50,269.30 C341.95,268.53 343.20,268.00 344.90,267.50 C346.60,267.00 349.25,266.27 350.70,266.30 C352.15,266.33 352.38,267.15 353.60,267.70 C354.82,268.25 356.53,269.28 358.00,269.60 C359.47,269.92 360.70,269.78 362.40,269.60 C364.10,269.42 366.27,268.90 368.20,268.50 C370.13,268.10 372.07,267.73 374.00,267.20 C375.93,266.67 378.10,265.55 379.80,265.30 C381.50,265.05 382.75,265.30 384.20,265.70 C385.65,266.10 386.88,266.90 388.50,267.70 C390.12,268.50 392.03,269.92 393.90,270.50 C395.77,271.08 397.77,271.18 399.70,271.20 C401.63,271.22 403.55,270.97 405.50,270.60 C407.45,270.23 409.88,269.60 411.40,269.00 C412.92,268.40 413.78,268.50 414.60,267.00 C415.42,265.50 415.82,262.27 416.30,260.00 C416.78,257.73 417.10,254.17 417.50,253.40 C417.90,252.63 418.22,253.88 418.70,255.40 C419.18,256.92 419.80,260.23 420.40,262.50 C421.00,264.77 421.50,267.43 422.30,269.00 C423.10,270.57 423.87,271.30 425.20,271.90 C426.53,272.50 428.25,272.43 430.30,272.60 C432.35,272.77 435.18,272.83 437.50,272.90 C439.82,272.97 443.08,272.98 444.20,273.00" stroke="#1a1a1a" stroke-width="1.15"/>
</g>
<path d="M179.8,13.4 H183.2 M181.5,13.4 V44.6 M179.8,44.6 H183.2" stroke="#777" stroke-width="1.1" fill="none"/><path d="M464.5,12.5 H470.3 M467.3,12.5 V36.4 M464.5,36.4 H470.3" stroke="#888" stroke-width="1.1" fill="none"/>
<text x="119.6" y="23.6" font-size="14.6">CeO</text><text x="149.7" y="29.4" font-size="8.6">2</text>
<text x="195.6" y="32.3" font-size="11.5">0.1</text>
<text x="99.5" y="49.4" font-size="12.5">x2</text>
<text x="125.2" y="61" font-size="12.5">EtOH</text>
<text x="95.3" y="76.8" font-size="12.5">x10</text>
<text x="119.3" y="83.3" font-size="12.5">CH<tspan font-size="7.8" dy="5" style="stroke-width:0.15px">3</tspan><tspan dy="-5">CHO</tspan></text>
<text x="60.2" y="120.9" font-size="6.6">12</text><text x="67.7" y="128.2" font-size="12.3">CO</text><text x="86.8" y="132.4" font-size="7.8">2</text><text x="92.4" y="128.2" font-size="12.5">x10</text>
<text x="63.8" y="145.5" font-size="6.6">13</text><text x="71.7" y="152.1" font-size="12.3">CO</text><text x="90.8" y="157.1" font-size="7.8">2</text><text x="94.5" y="152.1" font-size="12.5">x10</text>
<text x="26.7" y="178" font-size="12.5">x2</text>
<text x="208" y="169.4" font-size="12.5">H</text><text x="217" y="174.4" font-size="7.6">2</text><text x="221.3" y="169.4" font-size="12.5">O</text>
<text x="42.5" y="216.7" font-size="6.6">12</text><text x="50" y="223.3" font-size="12.4">CO</text><text x="72.3" y="223.3" font-size="12.5">x5</text>
<text x="45.8" y="242" font-size="6.6">13</text><text x="53.5" y="248.6" font-size="12.4">CO</text><text x="74.5" y="248.6" font-size="12.5">x5</text>
<text x="35.5" y="269.6" font-size="12.5">H</text><text x="45" y="274.4" font-size="7.6">2</text><text x="53.8" y="269.6" font-size="12.5">x2</text>
<text x="87.2" y="320.6" font-size="11.5">Temperature (<tspan font-size="6" dy="-5.6">o</tspan><tspan dy="5.6">C)</tspan></text>
<text x="122.7" y="341.6" font-size="14" style="font-family:&quot;Liberation Serif&quot;,serif;stroke:none">(<tspan font-weight="bold">a</tspan>)</text>
<text transform="translate(13.2,211.1) rotate(-90)" font-size="12.5" textLength="101" lengthAdjust="spacingAndGlyphs">Rate (&#956;mol/g.sec)</text>
<text x="392.6" y="23.9" font-size="14.4">MnO</text><text x="424.3" y="29.6" font-size="7.8">x</text>
<text x="470.9" y="27.7" font-size="11.5">0.2</text>
<text x="388" y="59.4" font-size="12.5">x5 EtOH</text>
<text x="388.2" y="95.4" font-size="12.5">x10</text>
<text x="415.2" y="94.3" font-size="12.5">CH<tspan font-size="7.8" dy="5" style="stroke-width:0.15px">3</tspan><tspan dy="-5">CHO</tspan></text>
<text x="459.5" y="151.8" font-size="6.6">12</text><text x="466.8" y="158.4" font-size="12.3">CO</text><text x="486.1" y="162.9" font-size="7.6">2</text>
<text x="458.9" y="195.3" font-size="6.6">13</text><text x="466.7" y="201.6" font-size="12.3">CO</text><text x="486.1" y="206.6" font-size="7.6">2</text>
<text x="490.3" y="246.4" font-size="12.5">x2</text>
<text x="506.8" y="254.1" font-size="12.5">H</text><text x="515.7" y="259.2" font-size="7.6">2</text><text x="520.4" y="254.1" font-size="12.5">O</text>
<text x="449.3" y="275.6" font-size="12" textLength="18.3">x20</text><text x="470.7" y="275.6" font-size="12.5">H</text><text x="480.7" y="280.9" font-size="7.6">2</text>
<text x="377" y="321.5" font-size="11.5">Temperature (<tspan font-size="6" dy="-5.6">o</tspan><tspan dy="5.6">C)</tspan></text>
<text x="407.8" y="341.6" font-size="14" style="font-family:&quot;Liberation Serif&quot;,serif;stroke:none">(<tspan font-weight="bold">b</tspan>)</text>
<text transform="translate(301.8,199.2) rotate(-90)" font-size="12.5" textLength="100.5" lengthAdjust="spacingAndGlyphs">Rate (&#956;mol/g.sec)</text>
</svg>
</body></html>
